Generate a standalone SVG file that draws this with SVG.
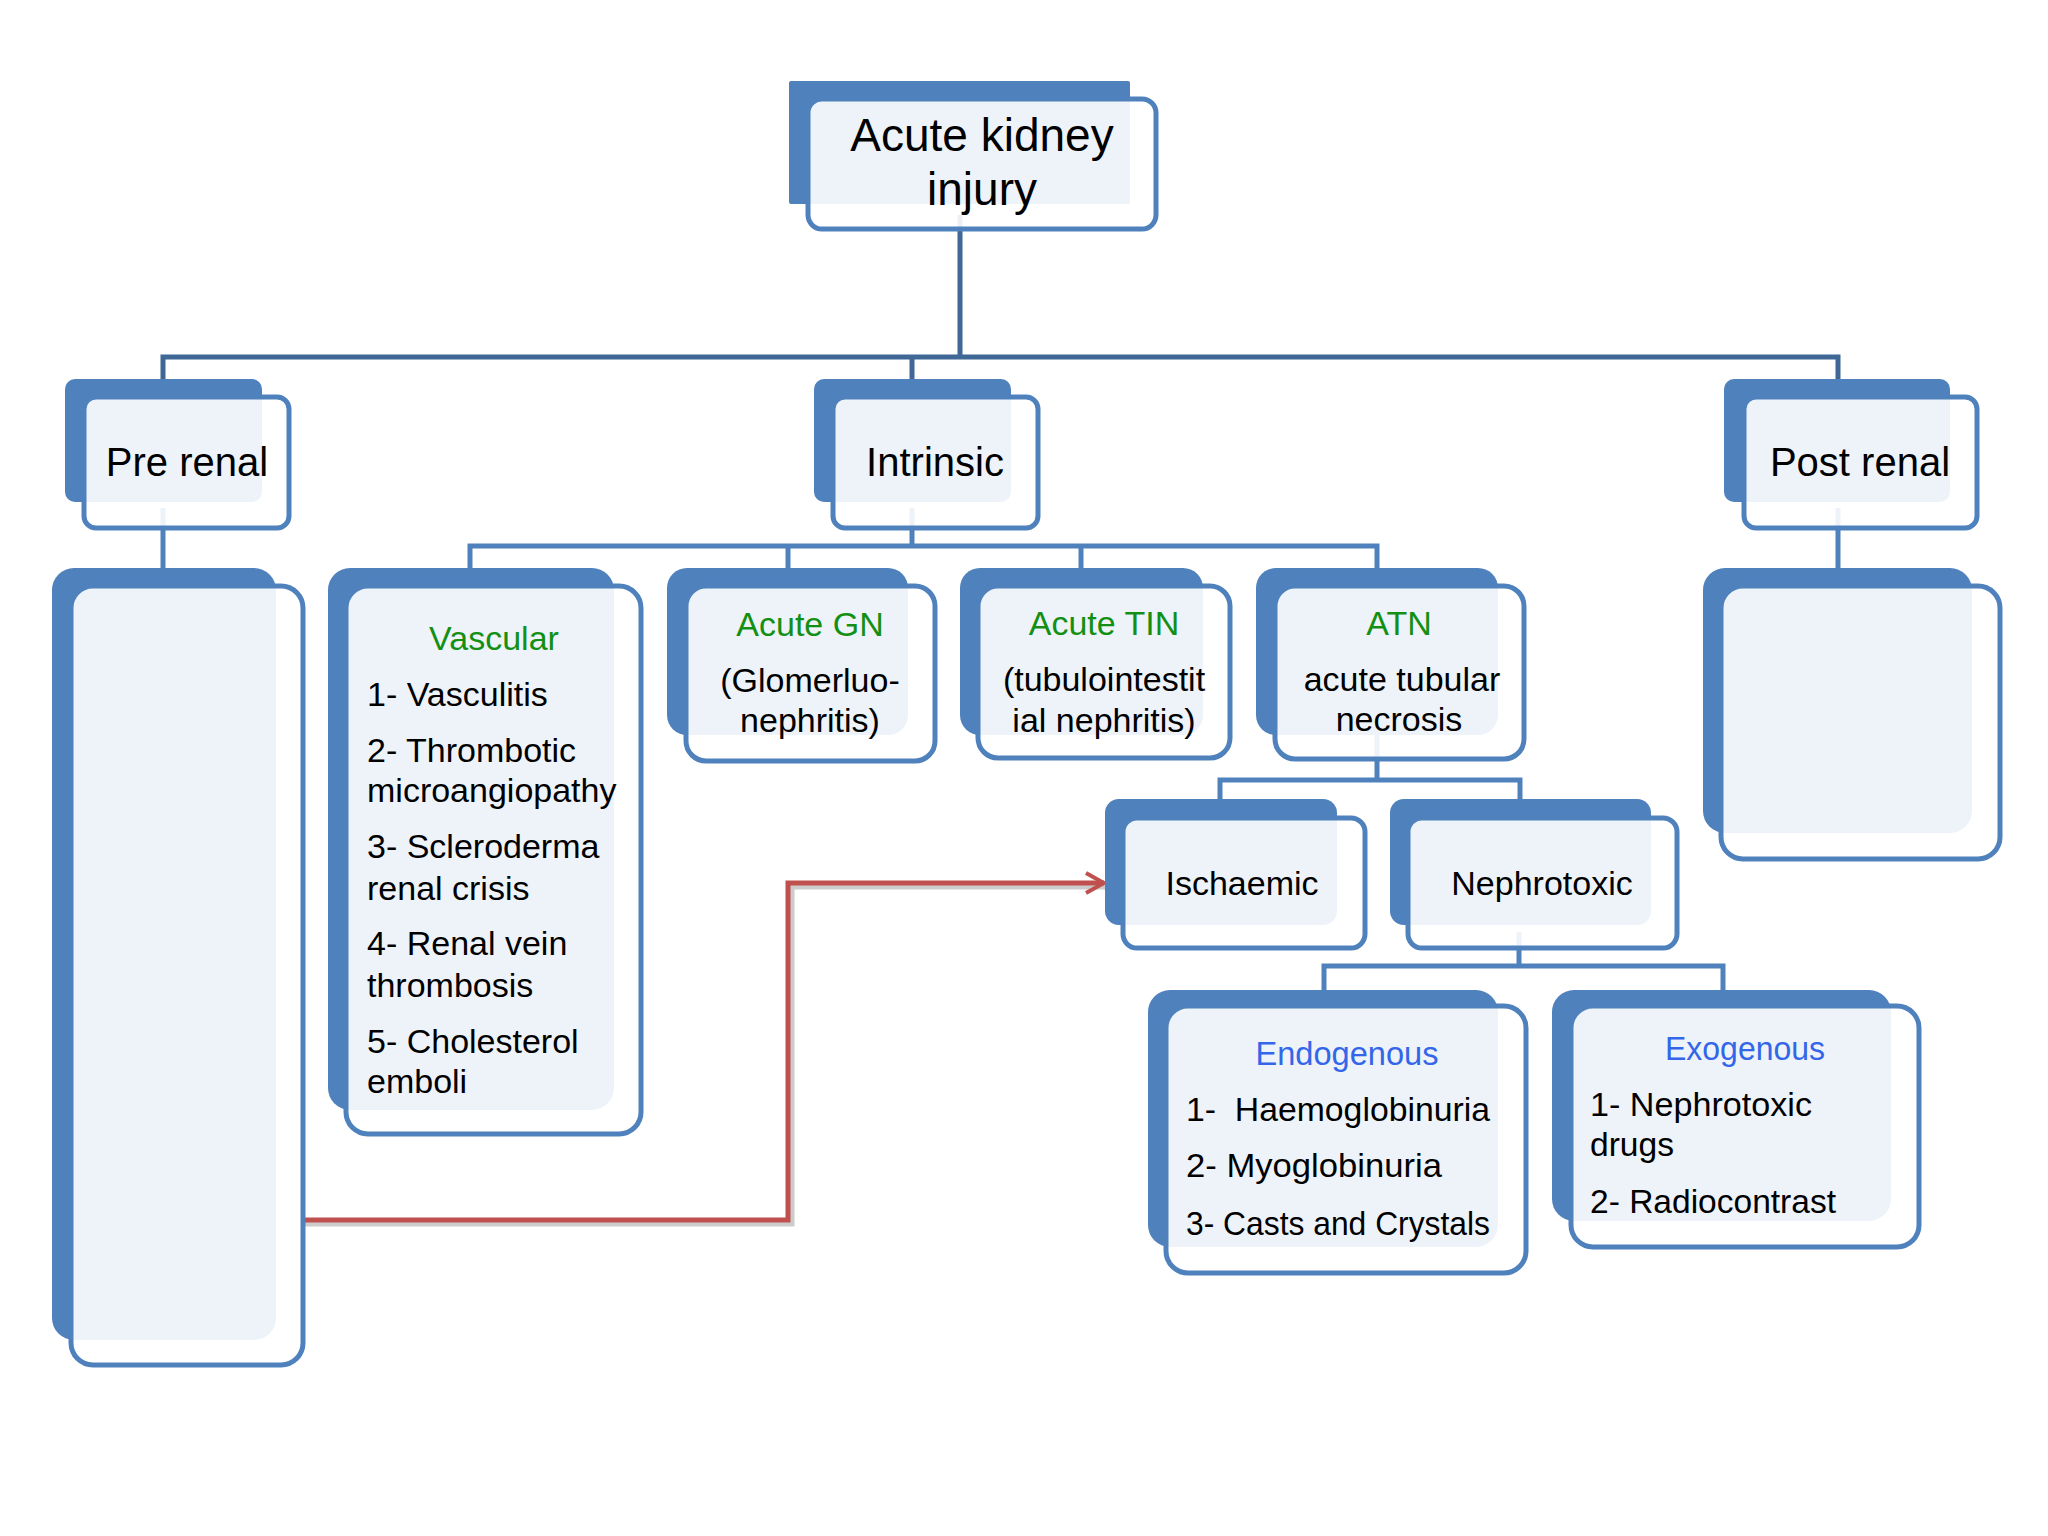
<svg xmlns="http://www.w3.org/2000/svg" width="2048" height="1536" viewBox="0 0 2048 1536">
<defs>
<style>
.back{fill:#4F81BD}
.front{fill:#FFFFFF;fill-opacity:0.9;stroke:#4F81BD;stroke-width:5}
.c1{fill:none;stroke:#3F6896;stroke-width:5}
.c2{fill:none;stroke:#4F81BD;stroke-width:5}
.t{font-family:"Liberation Sans",Arial,sans-serif;fill:#000}
.g{fill:#139013}
.b{fill:#3366E8}
.m{text-anchor:middle}
</style>
<marker id="arr" markerUnits="userSpaceOnUse" markerWidth="26" markerHeight="26" viewBox="0 0 26 26" refX="23" refY="13" orient="auto">
<path d="M5,3 L23,13 L5,23" fill="none" stroke="#C0504D" stroke-width="4"/>
</marker>
</defs>
<rect width="2048" height="1536" fill="#FFFFFF"/>
<g id="connectors">
<path class="c1" d="M960,215 V357"/>
<path class="c1" d="M163,379 V357 H1838 V379"/>
<path class="c1" d="M912,357 V379"/>
<path class="c2" d="M163,508 V568"/>
<path class="c2" d="M1838,508 V568"/>
<path class="c2" d="M912,508 V546"/>
<path class="c2" d="M470,568 V546 H1377 V568"/>
<path class="c2" d="M788,546 V568"/>
<path class="c2" d="M1081,546 V568"/>
<path class="c2" d="M1377,705 V780"/>
<path class="c2" d="M1220,799 V780 H1520 V799"/>
<path class="c2" d="M1519,932 V966"/>
<path class="c2" d="M1324,990 V966 H1723 V990"/>
<path d="M305,1224 H792 V887 H1106" fill="none" stroke="#9A9A9A" stroke-opacity="0.5" stroke-width="5"/>
<path d="M303,1220 H788 V883 H1104" fill="none" stroke="#C0504D" stroke-width="5" marker-end="url(#arr)"/>
</g>
<g id="node-aki">
<rect class="back" x="789" y="81" width="341" height="123" rx="2"/>
<rect class="front" x="808" y="99" width="348" height="130" rx="14"/>
<text class="t m" x="982" y="151" font-size="46">Acute kidney</text>
<text class="t m" x="982" y="205" font-size="46">injury</text>
</g>
<g id="node-prerenal">
<rect class="back" x="65" y="379" width="197" height="123" rx="10"/>
<rect class="front" x="84" y="397" width="205" height="131" rx="12"/>
<text class="t m" x="187" y="476" font-size="40">Pre renal</text>
</g>
<g id="node-intrinsic">
<rect class="back" x="814" y="379" width="197" height="123" rx="10"/>
<rect class="front" x="833" y="397" width="205" height="131" rx="12"/>
<text class="t m" x="935" y="476" font-size="40">Intrinsic</text>
</g>
<g id="node-postrenal">
<rect class="back" x="1724" y="379" width="226" height="123" rx="10"/>
<rect class="front" x="1744" y="397" width="233" height="131" rx="12"/>
<text class="t m" x="1860" y="476" font-size="40">Post renal</text>
</g>
<g id="node-prerenal-box">
<rect class="back" x="52" y="568" width="224" height="772" rx="22"/>
<rect class="front" x="71" y="586" width="232" height="779" rx="22"/>
</g>
<g id="node-postrenal-box">
<rect class="back" x="1703" y="568" width="269" height="265" rx="22"/>
<rect class="front" x="1721" y="586" width="279" height="273" rx="22"/>
</g>
<g id="node-vascular">
<rect class="back" x="328" y="568" width="286" height="542" rx="22"/>
<rect class="front" x="346" y="586" width="295" height="548" rx="22"/>
<text class="t g m" x="494" y="650" font-size="34">Vascular</text>
<text class="t" x="367" y="706" font-size="34">1- Vasculitis</text>
<text class="t" x="367" y="762" font-size="34">2- Thrombotic</text>
<text class="t" x="367" y="802" font-size="34">microangiopathy</text>
<text class="t" x="367" y="858" font-size="34">3- Scleroderma</text>
<text class="t" x="367" y="900" font-size="34">renal crisis</text>
<text class="t" x="367" y="955" font-size="34">4- Renal vein</text>
<text class="t" x="367" y="997" font-size="34">thrombosis</text>
<text class="t" x="367" y="1053" font-size="34">5- Cholesterol</text>
<text class="t" x="367" y="1093" font-size="34">emboli</text>
</g>
<g id="node-acutegn">
<rect class="back" x="667" y="568" width="241" height="167" rx="20"/>
<rect class="front" x="686" y="586" width="249" height="175" rx="20"/>
<text class="t g m" x="810" y="636" font-size="34">Acute GN</text>
<text class="t m" x="810" y="692" font-size="34">(Glomerluo-</text>
<text class="t m" x="810" y="732" font-size="34">nephritis)</text>
</g>
<g id="node-acutetin">
<rect class="back" x="960" y="568" width="243" height="167" rx="20"/>
<rect class="front" x="978" y="586" width="252" height="172" rx="20"/>
<text class="t g m" x="1104" y="635" font-size="34">Acute TIN</text>
<text class="t m" x="1104" y="691" font-size="34">(tubulointestit</text>
<text class="t m" x="1104" y="732" font-size="34">ial nephritis)</text>
</g>
<g id="node-atn">
<rect class="back" x="1256" y="568" width="242" height="167" rx="20"/>
<rect class="front" x="1275" y="586" width="249" height="173" rx="20"/>
<text class="t g m" x="1399" y="635" font-size="34">ATN</text>
<text class="t m" x="1402" y="691" font-size="34">acute tubular</text>
<text class="t m" x="1399" y="731" font-size="34">necrosis</text>
</g>
<g id="node-ischaemic">
<rect class="back" x="1105" y="799" width="232" height="126" rx="14"/>
<rect class="front" x="1123" y="818" width="242" height="130" rx="14"/>
<text class="t m" x="1242" y="895" font-size="34">Ischaemic</text>
</g>
<g id="node-nephrotoxic">
<rect class="back" x="1390" y="799" width="261" height="126" rx="14"/>
<rect class="front" x="1408" y="818" width="269" height="130" rx="14"/>
<text class="t m" x="1542" y="895" font-size="34">Nephrotoxic</text>
</g>
<g id="node-endogenous">
<rect class="back" x="1148" y="990" width="350" height="257" rx="22"/>
<rect class="front" x="1166" y="1006" width="360" height="267" rx="22"/>
<text class="t b m" x="1347" y="1065" font-size="33" textLength="183" lengthAdjust="spacingAndGlyphs">Endogenous</text>
<text class="t" x="1186" y="1121" font-size="34" xml:space="preserve" textLength="304" lengthAdjust="spacingAndGlyphs">1-  Haemoglobinuria</text>
<text class="t" x="1186" y="1177" font-size="34" textLength="256" lengthAdjust="spacingAndGlyphs">2- Myoglobinuria</text>
<text class="t" x="1186" y="1235" font-size="34" textLength="304" lengthAdjust="spacingAndGlyphs">3- Casts and Crystals</text>
</g>
<g id="node-exogenous">
<rect class="back" x="1552" y="990" width="339" height="231" rx="22"/>
<rect class="front" x="1571" y="1006" width="348" height="241" rx="22"/>
<text class="t b m" x="1745" y="1060" font-size="33" textLength="160" lengthAdjust="spacingAndGlyphs">Exogenous</text>
<text class="t" x="1590" y="1116" font-size="34" textLength="222" lengthAdjust="spacingAndGlyphs">1- Nephrotoxic</text>
<text class="t" x="1590" y="1156" font-size="34" textLength="84" lengthAdjust="spacingAndGlyphs">drugs</text>
<text class="t" x="1590" y="1213" font-size="34" textLength="246" lengthAdjust="spacingAndGlyphs">2- Radiocontrast</text>
</g>
</svg>
